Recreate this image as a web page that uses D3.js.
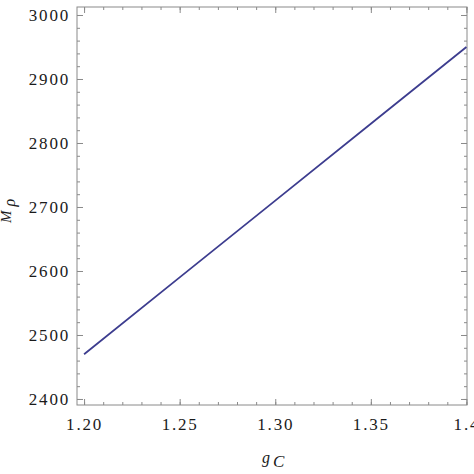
<!DOCTYPE html>
<html><head><meta charset="utf-8">
<script src="https://cdn.jsdelivr.net/npm/d3@7"></script>
<style>
html,body{margin:0;padding:0;background:#fff;}
svg{display:block;}
text{font-family:"Liberation Serif","DejaVu Serif",serif;fill:#1a1a1a;}
</style></head>
<body>
<svg id="chart" width="474" height="474"></svg>
<script>
const gValues = [1.20, 1.25, 1.30, 1.35, 1.40];
const mRho = [2470, 2590, 2710, 2830, 2950];
const xTickLabels = ["1.20", "1.25", "1.30", "1.35", "1.4"];
const xTicks = [1.20, 1.25, 1.30, 1.35, 1.40];
const yTicks = [2400, 2500, 2600, 2700, 2800, 2900, 3000];

const svg = d3.select("#chart");
const pLeft = 77, pRight = 467, pTop = 7, pBottom = 405;
const x = d3.scaleLinear().domain([1.1963, 1.4003]).range([pLeft, pRight]);
const y = d3.scaleLinear().domain([2390.6, 3012.5]).range([pBottom, pTop]);

const frameColor = "#8a8a8a";
svg.append("rect").attr("x", pLeft).attr("y", pTop).attr("width", pRight-pLeft).attr("height", pBottom-pTop)
  .attr("fill", "none").attr("stroke", frameColor).attr("stroke-width", 1);

const xMinor = d3.range(120, 141).map(d => d/100);
const yMinor = d3.range(2400, 3001, 20);

const gB = svg.append("g").attr("transform", `translate(0,${pBottom})`).call(d3.axisBottom(x).tickValues(xMinor).tickSizeInner(-3).tickSizeOuter(0).tickFormat(""));
const gBM = svg.append("g").attr("transform", `translate(0,${pBottom})`).call(d3.axisBottom(x).tickValues(xTicks).tickSizeInner(-6).tickSizeOuter(0).tickPadding(13)
  .tickFormat((d,i) => xTickLabels[i]));
const gT = svg.append("g").attr("transform", `translate(0,${pTop})`).call(d3.axisTop(x).tickValues(xMinor).tickSizeInner(-3).tickSizeOuter(0).tickFormat(""));
const gTM = svg.append("g").attr("transform", `translate(0,${pTop})`).call(d3.axisTop(x).tickValues(xTicks).tickSizeInner(-6).tickSizeOuter(0).tickFormat(""));
const gL = svg.append("g").attr("transform", `translate(${pLeft},0)`).call(d3.axisLeft(y).tickValues(yMinor).tickSizeInner(-3).tickSizeOuter(0).tickFormat(""));
const gLM = svg.append("g").attr("transform", `translate(${pLeft},0)`).call(d3.axisLeft(y).tickValues(yTicks).tickSizeInner(-6).tickSizeOuter(0).tickPadding(7).tickFormat(d3.format("d")));
const gR = svg.append("g").attr("transform", `translate(${pRight},0)`).call(d3.axisRight(y).tickValues(yMinor).tickSizeInner(-3).tickSizeOuter(0).tickFormat(""));
const gRM = svg.append("g").attr("transform", `translate(${pRight},0)`).call(d3.axisRight(y).tickValues(yTicks).tickSizeInner(-6).tickSizeOuter(0).tickFormat(""));

[gB,gBM,gT,gTM,gL,gLM,gR,gRM].forEach(g => {
  g.select(".domain").remove();
  g.selectAll("line").attr("stroke", frameColor);
  g.selectAll("text").attr("font-size", 17)
    .attr("fill", "#1a1a1a").style("letter-spacing", "1.8px");
});

const pts = gValues.map((g,i) => [g, mRho[i]]);
svg.append("path").datum(pts)
  .attr("d", d3.line().x(d => x(d[0])).y(d => y(d[1])))
  .attr("fill", "none").attr("stroke", "#3d3d8f").attr("stroke-width", 1.8);

const xl = svg.append("text").attr("x", 262).attr("y", 463).attr("font-size", 16).attr("font-style", "italic");
xl.append("tspan").text("g");
xl.append("tspan").attr("dx", 3).attr("dy", 4).attr("font-size", 17).text("C");

const yl = svg.append("text").attr("transform", "translate(11,223) rotate(-90)")
  .attr("font-size", 15).attr("font-style", "italic");
yl.append("tspan").text("M");
yl.append("tspan").attr("dx", 4).attr("dy", 4).attr("font-size", 16).text("ρ");
</script>
</body></html>
